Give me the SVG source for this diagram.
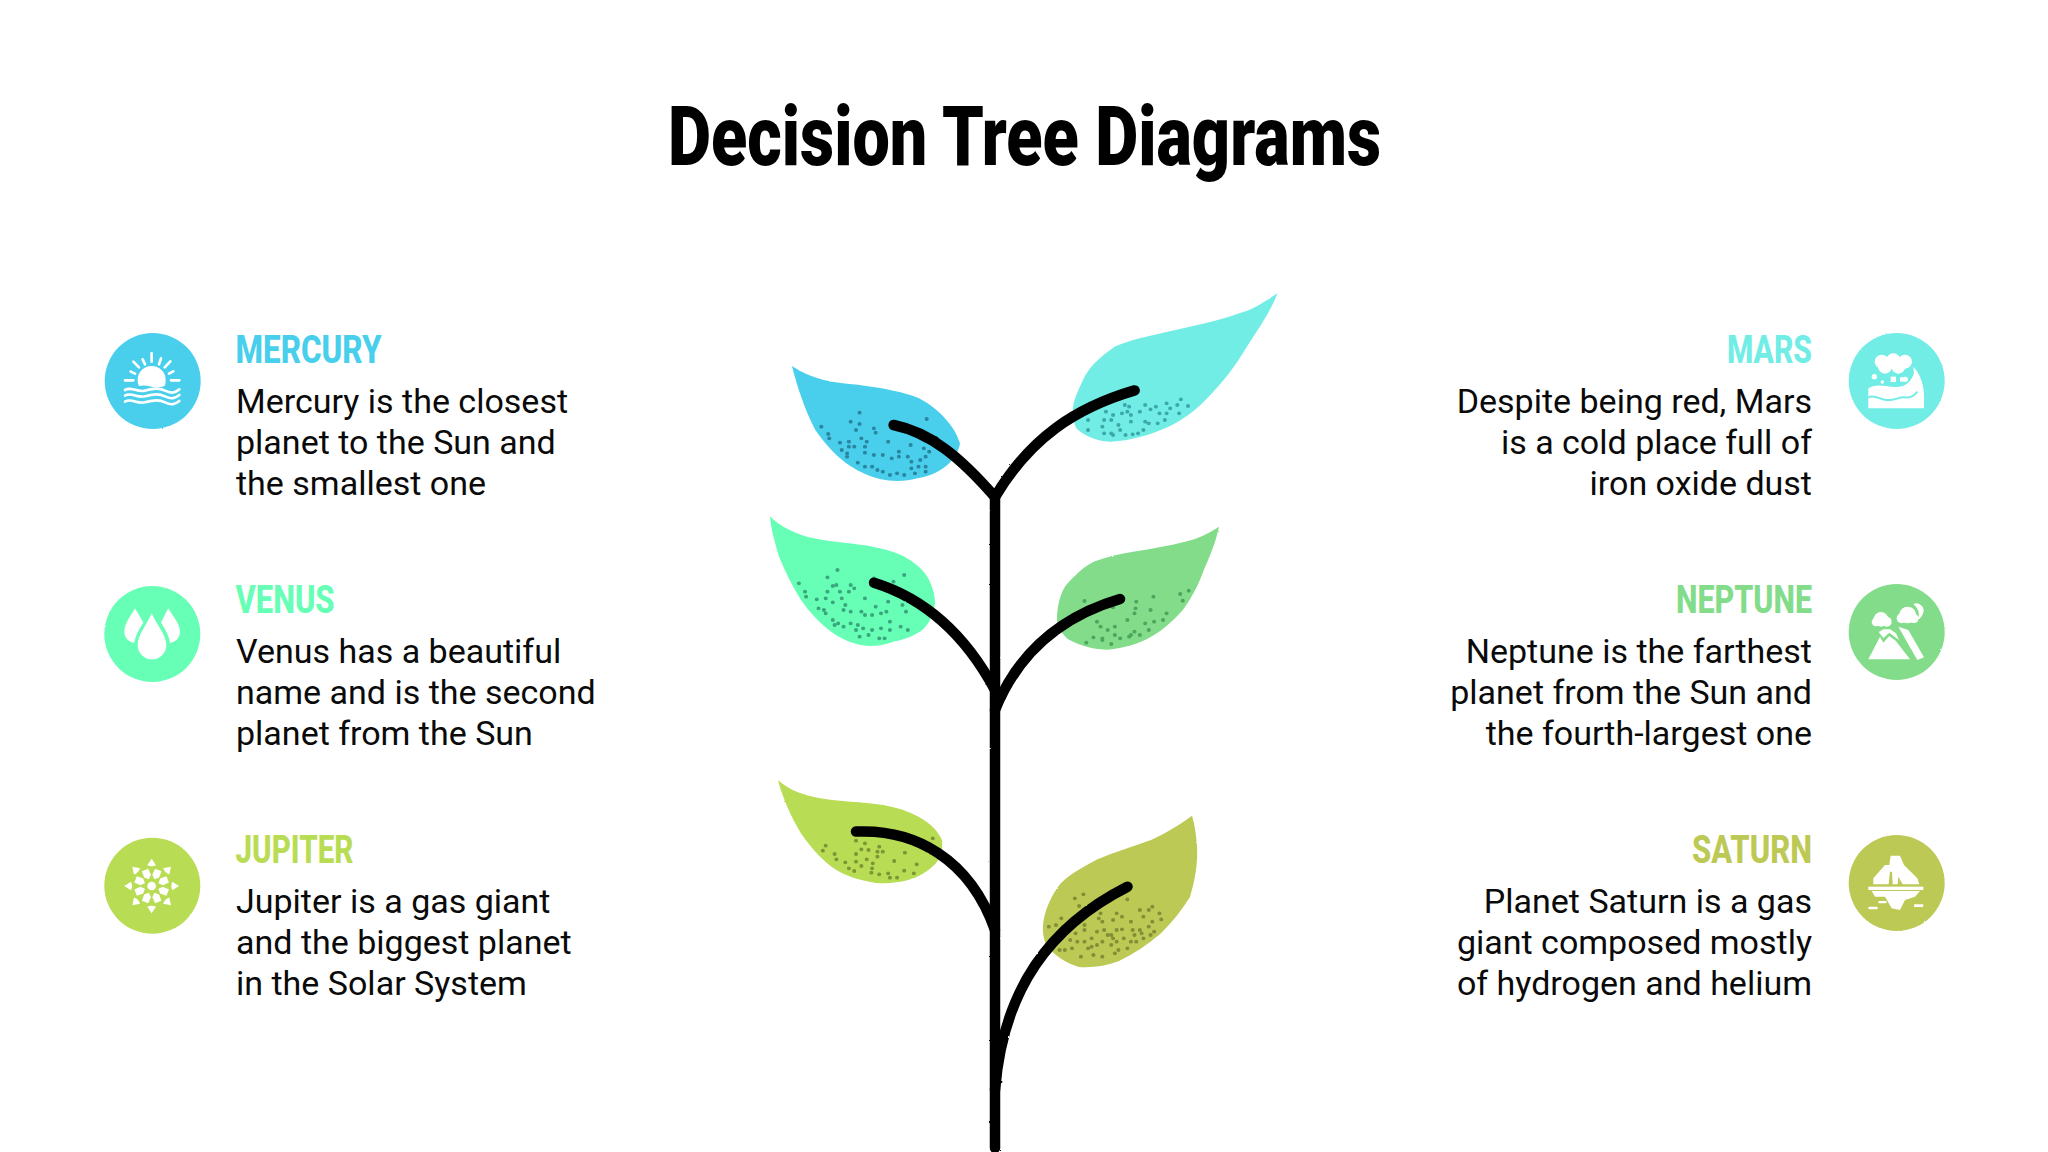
<svg xmlns="http://www.w3.org/2000/svg" xmlns:xlink="http://www.w3.org/1999/xlink" width="2048" height="1152" viewBox="0 0 2048 1152">
<style>
.title{font-family:"Roboto","Liberation Sans",sans-serif;font-weight:900;font-size:83px;fill:#000}
.h{font-family:"Roboto","Liberation Sans",sans-serif;font-weight:800;font-size:39px}
.b{font-family:"Roboto","Liberation Sans",sans-serif;font-weight:400;font-size:34px;fill:#0a0a0a}
.r{text-anchor:end}
.stem{fill:none;stroke:#000;stroke-width:10.5;stroke-linecap:round}
.dots{fill:none;stroke-width:11.5;stroke-linecap:round}
.w{fill:#fff}
.wl{fill:none;stroke:#fff;stroke-linecap:round}
</style>
<defs>
<filter id="rough" x="-5%" y="-5%" width="110%" height="110%"><feTurbulence type="fractalNoise" baseFrequency="0.25" numOctaves="2" seed="3"/><feDisplacementMap in="SourceGraphic" scale="1.6"/></filter>
<path id="pi" d="M0 -22L11 -32L10 -52L-10 -52L-11 -32Z"/>
<path id="po" d="M0 -82L13 -62Q0 -56 -13 -62Z"/>
</defs>
<rect width="2048" height="1152" fill="#fff"/>
<text class="title" x="668" y="165" textLength="713" lengthAdjust="spacingAndGlyphs">Decision Tree Diagrams</text>

<g id="leaves">
<g id="leaf-mercury"><path filter="url(#rough)" transform="translate(0 18) scale(1 .9333)" fill="#48CFEC" d="M792 373C812 388 835 391 858 393C885 397 905 401 919 407.5C938 418 955 437 960 456C958 470 945 488 919 493C905 497 892 497 880 494C855 487 835 472 815 441C805 420 797 395 792 373Z"/>
<path class="dots" transform="translate(740 270) scale(.357 .3333)" stroke="#2A86A0" d="M335 428h0M228 470h0M247 492h0M250 505h0M280 518h0M305 515h0M325 480h0M310 455h0M335 462h0M375 475h0M380 488h0M340 505h0M355 515h0M305 530h0M320 530h0M285 540h0M300 550h0M350 530h0M350 548h0M375 555h0M400 555h0M415 515h0M478 525h0M523 447h0M445 545h0M425 565h0M445 560h0M470 560h0M515 535h0M530 545h0M520 560h0M505 570h0M480 575h0M500 590h0M520 590h0M520 605h0M330 578h0M350 590h0M370 590h0M385 600h0M400 605h0M420 615h0M440 610h0M460 615h0M490 610h0M480 595h0M300 560h0"/></g>
<g id="leaf-mars"><path filter="url(#rough)" transform="translate(0 18) scale(1 .9333)" fill="#71EDE6" d="M1277.5 295C1262 306 1250 314 1240 316C1215 326 1190 330 1168.6 336C1145 342 1130 345 1115 352C1100 363 1088 375 1083 388C1078 400 1073 410 1073 420C1073 430 1074 436 1077.5 441C1088 450 1100 454 1111 454C1130 453 1150 447 1168.6 438C1182 431 1194 422 1204 411C1222 392 1236 372 1247 352C1258 333 1270 316 1277.5 295Z"/>
<path class="dots" transform="translate(740 270) scale(.357 .3333)" stroke="#3CA8AC" d="M1078 405h0M1090 410h0M1085 425h0M1070 430h0M1095 435h0M1120 425h0M1135 405h0M1150 418h0M1165 410h0M1195 400h0M1235 388h0M1225 405h0M1205 415h0M1195 430h0M1255 408h0M1230 430h0M1175 430h0M1190 450h0M1170 460h0M1135 455h0M1145 460h0M1095 455h0M1060 465h0M1020 450h0M1040 450h0M1045 435h0M975 480h0M1015 470h0M1020 490h0M1040 490h0M1065 480h0M1080 495h0M1100 493h0M1130 480h0M1115 490h0M1045 495h0M975 450h0M1025 425h0"/></g>
<g id="leaf-venus"><path filter="url(#rough)" transform="translate(0 18) scale(1 .9333)" fill="#66FFB5" d="M770 534C782 546 795 552 808 556C828 561 847 562 865 565C880 568 893 571 904 577C917 585 925 593 929 602C933 611 935 619 935 627C934 638 930 648 922 656C914 662 905 666 894 668C886 671 878 673 869 673C856 672 844 667 833 659C820 649 810 637 801 623.6C792 608 785 593 779 577C775 562 771 548 770 534Z"/>
<path class="dots" transform="translate(740 270) scale(.357 .3333)" stroke="#3BA67E" d="M273 900h0M245 922h0M260 948h0M270 945h0M310 945h0M320 955h0M305 965h0M280 965h0M245 965h0M165 940h0M182 965h0M185 980h0M215 988h0M240 985h0M260 997h0M285 985h0M295 1005h0M290 1020h0M310 1025h0M220 1015h0M235 1020h0M240 1030h0M350 985h0M415 995h0M455 1005h0M465 1025h0M410 1025h0M380 1010h0M340 1025h0M350 1035h0M370 1035h0M395 1030h0M460 915h0M430 935h0M375 925h0M260 1050h0M275 1060h0M290 1070h0M265 1065h0M310 1060h0M330 1065h0M325 1080h0M345 1075h0M370 1080h0M395 1075h0M420 1055h0M420 1080h0M450 1070h0M470 1080h0M390 1105h0M360 1095h0M335 1100h0M405 1105h0"/></g>
<g id="leaf-neptune"><path filter="url(#rough)" transform="translate(0 18) scale(1 .9333)" fill="#82DC8A" d="M1219 545C1208 553 1197 558 1186 561C1168 566 1150 569 1133 572C1118 575 1105 578 1093.6 582.5C1082 589 1073 599 1065 609C1059 620 1057 633 1057 645C1058 653 1062 660 1068.6 666C1080 673 1095 677 1108 677C1124 675 1138 671 1151 663C1164 655 1174 645 1183 634C1192 621 1199 606 1204 591C1210 576 1216 561 1219 545Z"/>
<path class="dots" transform="translate(740 270) scale(.357 .3333)" stroke="#4BA65E" d="M965 993h0M1045 1012h0M1110 995h0M1158 980h0M1233 972h0M1257 962h0M1240 992h0M1108 1015h0M1150 1020h0M1105 1030h0M1085 1050h0M1195 1030h0M1185 1050h0M1160 1055h0M1135 1060h0M1145 1080h0M1105 1085h0M1095 1095h0M1120 1095h0M1000 1055h0M1010 1070h0M1050 1070h0M1030 1080h0M1050 1095h0M1065 1105h0M1090 1100h0M990 1102h0M1015 1105h0M970 1118h0M1040 1122h0M1015 1110h0"/></g>
<g id="leaf-jupiter"><path filter="url(#rough)" transform="translate(0 46.67) scale(1 .9333)" fill="#B9DC55" d="M778 786C790 797 804 802 818.6 805C840 809 862 809 883 812.5C896 815 908 819 918.6 825C930 832 938 840 942 850C943 859 941 868 936 875C928 884 918 890 908 893C898 896 887 897 876 896C862 894 849 890 836 882C822 872 811 858 801 843C791 825 783 806 778 786Z"/>
<path class="dots" transform="translate(740 700) scale(.357 .3333)" stroke="#7C9636" d="M540 415h0M325 422h0M350 430h0M340 448h0M360 450h0M390 440h0M385 455h0M400 455h0M325 462h0M385 470h0M355 478h0M372 490h0M325 485h0M340 498h0M432 483h0M462 458h0M495 493h0M265 462h0M270 478h0M240 437h0M232 452h0M295 487h0M305 505h0M320 513h0M370 505h0M368 518h0M390 523h0M415 520h0M420 533h0M440 533h0M460 512h0M487 520h0"/></g>
<g id="leaf-saturn"><path filter="url(#rough)" transform="translate(0 46.67) scale(1 .9333)" fill="#BDC955" d="M1192 824C1178 835 1165 843 1151 850C1133 857 1114 863 1097 871C1083 879 1071 886 1061 896C1052 908 1046 922 1043.6 936C1042 946 1043 956 1047 964C1056 975 1067 983 1079 986C1093 987 1106 985 1118.6 980C1134 972 1148 962 1161 950C1172 938 1182 925 1190 911C1195 893 1198 875 1197 857C1196 845 1195 834 1192 824Z"/>
<path class="dots" transform="translate(740 700) scale(.357 .3333)" stroke="#828F36" d="M962 583h0M938 595h0M950 618h0M1085 598h0M1155 620h0M1145 630h0M1120 630h0M1130 650h0M1175 640h0M1180 658h0M1155 665h0M1055 640h0M1070 650h0M1045 660h0M1010 640h0M1005 655h0M1015 665h0M900 655h0M865 680h0M885 675h0M905 680h0M965 675h0M965 690h0M1000 695h0M1020 690h0M1055 690h0M1070 688h0M1095 665h0M1100 690h0M1120 690h0M1105 705h0M1125 700h0M1150 705h0M1160 695h0M940 700h0M945 725h0M965 725h0M985 715h0M1015 725h0M1045 715h0M1055 725h0M1040 735h0M1085 745h0M1110 725h0M1130 715h0M1000 735h0M975 745h0M955 770h0M990 765h0M1015 770h0M895 750h0M910 750h0M930 745h0M1060 750h0M1050 760h0M1030 705h0M1075 715h0M1095 725h0M1040 705h0M1145 680h0M925 720h0M985 740h0"/></g>
</g>

<g id="connectors" filter="url(#rough)">
<path class="stem" d="M995 496V1148"/>
<path class="stem" d="M893.6 425C930 432.4 960 456.7 995 497"/>
<path class="stem" d="M1134.6 390.4C1075 408 1030 438 995 497"/>
<path class="stem" d="M874 582.7C925 598.5 965 634 995 690"/>
<path class="stem" d="M1120 599C1065 615.3 1020 648 995 710"/>
<path class="stem" d="M856 831.6C915 828.8 970 858.7 995 930"/>
<path class="stem" d="M1127.5 886.7C1050 925.9 1003 989.3 995 1090"/>
</g>

<g id="mercury">
<circle filter="url(#rough)" cx="152.7" cy="381" r="48" fill="#48CFEC"/>
<g transform="translate(90 320) scale(.3333)">
<path class="w" d="M143 180A42 42 0 1 1 227 180Q228 190 224 198Q205 204 185 200Q165 195 147 198Q142 190 143 180Z"/>
<path class="wl" stroke-width="8" d="M105 181H130M122 155L135 161M130 125L147 142M158 118L165 133M185 100V125M213 115L207 133M241 124L224 142M250 154L237 161M243 181H268"/>
<path class="wl" stroke-width="8" d="M105 210C125 198 140 218 165 212S205 202 225 212S255 218 268 208M105 227C125 215 140 235 165 229S205 219 225 229S255 235 268 225M105 245C125 233 140 253 165 247S205 237 225 247S255 253 268 243"/>
</g>
<text class="h" fill="#48CFEC" x="235.5" y="363" textLength="146" lengthAdjust="spacingAndGlyphs">MERCURY</text>
<text class="b" x="236" y="413">Mercury is the closest</text>
<text class="b" x="236" y="454">planet to the Sun and</text>
<text class="b" x="236" y="495">the smallest one</text>
</g>

<g id="venus">
<circle filter="url(#rough)" cx="152.3" cy="634" r="48" fill="#66FFB5"/>
<g transform="translate(90 575) scale(.3333)">
<path class="w" d="M185 115C170 150 143 180 143 210A43 43 0 0 0 229 210C229 180 200 150 185 115Z"/>
<path class="w" d="M135 100C125 120 103 145 103 170C103 190 118 200 133 204C135 185 148 160 160 143C152 128 142 112 135 100Z"/>
<path class="w" d="M235 100C245 120 270 145 270 170C270 190 255 200 240 204C238 185 225 160 213 143C221 128 228 112 235 100Z"/>
</g>
<text class="h" fill="#66FFB5" x="235.5" y="613" textLength="99" lengthAdjust="spacingAndGlyphs">VENUS</text>
<text class="b" x="236" y="662.5">Venus has a beautiful</text>
<text class="b" x="236" y="703.5">name and is the second</text>
<text class="b" x="236" y="744.5">planet from the Sun</text>
</g>

<g id="jupiter">
<circle filter="url(#rough)" cx="152.3" cy="885.7" r="48" fill="#B9DC55"/>
<g transform="translate(90 825) scale(.3333)">
<circle class="w" cx="185" cy="183" r="13"/>
<g class="w" transform="translate(185 183)">
<use xlink:href="#pi" transform="rotate(22.5)"/><use xlink:href="#pi" transform="rotate(67.5)"/><use xlink:href="#pi" transform="rotate(112.5)"/><use xlink:href="#pi" transform="rotate(157.5)"/><use xlink:href="#pi" transform="rotate(202.5)"/><use xlink:href="#pi" transform="rotate(247.5)"/><use xlink:href="#pi" transform="rotate(292.5)"/><use xlink:href="#pi" transform="rotate(337.5)"/>
<use xlink:href="#po"/><use xlink:href="#po" transform="rotate(45)"/><use xlink:href="#po" transform="rotate(90)"/><use xlink:href="#po" transform="rotate(135)"/><use xlink:href="#po" transform="rotate(180)"/><use xlink:href="#po" transform="rotate(225)"/><use xlink:href="#po" transform="rotate(270)"/><use xlink:href="#po" transform="rotate(315)"/>
</g>
</g>
<text class="h" fill="#B9DC55" x="235.5" y="863" textLength="118" lengthAdjust="spacingAndGlyphs">JUPITER</text>
<text class="b" x="236" y="913">Jupiter is a gas giant</text>
<text class="b" x="236" y="954">and the biggest planet</text>
<text class="b" x="236" y="995">in the Solar System</text>
</g>

<g id="mars">
<circle filter="url(#rough)" cx="1896.7" cy="381" r="48" fill="#71EDE6"/>
<g transform="translate(1830 320) scale(.3333)">
<g class="w"><circle cx="155" cy="125" r="21"/><circle cx="190" cy="122" r="22"/><circle cx="225" cy="125" r="21"/><circle cx="165" cy="140" r="21"/><circle cx="205" cy="140" r="21"/><circle cx="133" cy="170" r="8"/><circle cx="157" cy="186" r="5"/><rect x="182" y="170" width="16" height="16"/><rect x="210" y="172" width="13" height="13"/><circle cx="226" cy="178" r="8"/></g>
<path class="w" d="M115 205C140 190 165 200 185 200C215 205 240 195 252 160L250 140C270 160 282 195 282 225V265H115Z"/>
<path fill="none" stroke="#71EDE6" stroke-width="6" d="M115 232C135 222 150 240 170 240C195 243 205 230 225 232C240 235 250 230 262 215"/>
</g>
<text class="h" fill="#71EDE6" x="1727" y="363" textLength="85" lengthAdjust="spacingAndGlyphs">MARS</text>
<text class="b r" x="1812" y="413">Despite being red, Mars</text>
<text class="b r" x="1812" y="454">is a cold place full of</text>
<text class="b r" x="1812" y="495">iron oxide dust</text>
</g>

<g id="neptune">
<circle filter="url(#rough)" cx="1896.7" cy="632" r="48" fill="#82DC8A"/>
<g transform="translate(1830 570) scale(.3333)">
<g class="w"><circle cx="153" cy="148" r="22"/><circle cx="138" cy="156" r="13"/><circle cx="170" cy="155" r="15"/><circle cx="233" cy="135" r="25"/><circle cx="215" cy="145" r="15"/><circle cx="252" cy="145" r="14"/></g>
<path class="w" d="M250 102A22 22 0 0 1 280 128Q274 145 264 148Q274 122 250 102Z"/>
<path class="w" d="M115 268L150 200L160 218L178 198L197 212L240 268Z"/>
<path class="w" d="M146 186L160 178L180 178L198 190L207 210L178 188L160 204Z"/>
<path class="w" d="M205 170L235 180L282 262L262 270Z"/>
</g>
<text class="h" fill="#82DC8A" x="1676" y="613" textLength="136" lengthAdjust="spacingAndGlyphs">NEPTUNE</text>
<text class="b r" x="1812" y="662.5">Neptune is the farthest</text>
<text class="b r" x="1812" y="703.5">planet from the Sun and</text>
<text class="b r" x="1812" y="744.5">the fourth-largest one</text>
</g>

<g id="saturn">
<circle filter="url(#rough)" cx="1896.7" cy="883" r="48" fill="#BDC955"/>
<g transform="translate(1830 825) scale(.3333)">
<path class="w" d="M130 178V160L165 120H178L182 92H210L222 120L262 160L268 178H218L205 155L203 178H188L186 140L180 140L176 178Z"/>
<rect class="w" x="115" y="185" width="165" height="10"/>
<path class="w" d="M125 198L135 215H165L185 250L210 255L225 225L255 215L270 198Z"/>
<rect class="w" x="115" y="245" width="28" height="8" rx="3"/><rect class="w" x="252" y="238" width="28" height="8" rx="3"/><rect class="w" x="145" y="228" width="25" height="7" rx="3"/>
</g>
<text class="h" fill="#BDC955" x="1692" y="863" textLength="120" lengthAdjust="spacingAndGlyphs">SATURN</text>
<text class="b r" x="1812" y="913">Planet Saturn is a gas</text>
<text class="b r" x="1812" y="954">giant composed mostly</text>
<text class="b r" x="1812" y="995">of hydrogen and helium</text>
</g>
</svg>
